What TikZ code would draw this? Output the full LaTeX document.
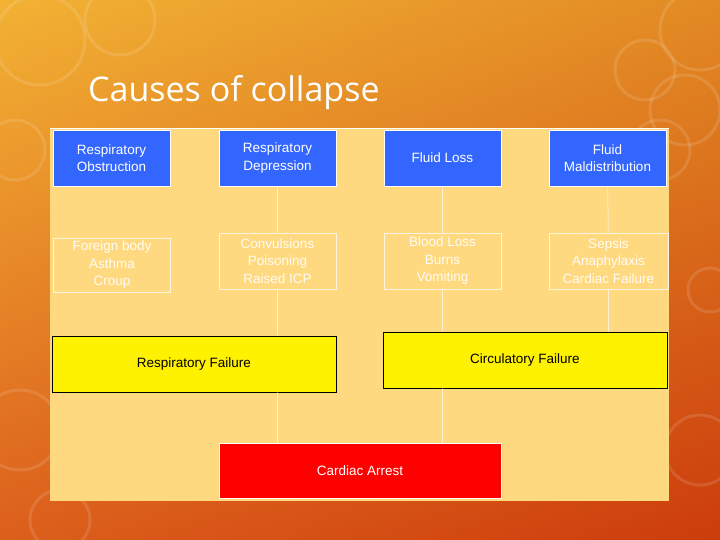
\documentclass[tikz,border=0pt]{standalone}
\usepackage{fontspec}
\setsansfont{Liberation Sans}
\newfontfamily\titlefont{Open Sans}
\usetikzlibrary{positioning,shadings}
\definecolor{panel}{RGB}{255,217,128}
\definecolor{causeblue}{RGB}{51,102,255}
\definecolor{bgtl}{RGB}{242,178,52}
\definecolor{bgtr}{RGB}{226,138,36}
\definecolor{bgbl}{RGB}{220,95,28}
\definecolor{bgbr}{RGB}{204,60,12}
\begin{document}
\begin{tikzpicture}[x=1pt,y=-1pt,
  box/.style={rectangle,minimum width=117pt,minimum height=56pt,inner sep=2pt,align=center,
    font=\sffamily\fontsize{13.5}{17.5}\selectfont},
  cause/.style={box,fill=causeblue,draw=white,line width=0.5pt,text=white},
  detail/.style={box,draw=white!75!panel,line width=0.5pt,text=white!92!panel},
  failure/.style={box,fill=yellow,draw=black,line width=0.6pt,minimum width=284pt},
  arrest/.style={box,fill=red,draw=white,line width=0.5pt,text=white,minimum width=282pt,minimum height=55pt},
  link/.style={draw=white,line width=0.5pt},
  ring/.style={draw=white,opacity=0.12,line width=3pt}]
\clip (0,0) rectangle (720,540);
% background
\shade[upper left=bgtl,upper right=bgtr,lower left=bgbl,lower right=bgbr] (0,0) rectangle (720,540);
\foreach \cx/\cy/\r in {40/40/45,120/20/35,15/150/30,700/30/40,645/70/30,685/110/35,660/150/30,640/230/28,710/290/22,20/430/40,700/450/35,60/520/30}
  \draw[ring] (\cx,\cy) circle (\r);
\fill[panel] (50,128) rectangle (669,501);
\draw[white,line width=0.6pt] (50,128) -- (669,128);

\node[anchor=base west,text=white,font=\titlefont\fontsize{34}{40}\selectfont,inner sep=0pt] (title) at (88,102) {Causes of collapse};

% causes
\node[cause] (obst) at (111.5,158) {Respiratory\\Obstruction};
\node[cause] (dep) at (277.5,158) {Respiratory\\Depression};
\node[cause] (loss) at (442.5,158) {Fluid Loss};
\node[cause] (mald) at (607.5,158) {Fluid\\Maldistribution};

% examples
\node[detail,minimum height=54pt] (obstx) at (112,265) {Foreign body\\Asthma\\Croup};
\node[detail] (depx) at (277.5,261) {Convulsions\\Poisoning\\Raised ICP};
\node[detail] (lossx) at (442.5,261) {Blood Loss\\Burns\\Vomiting};
\node[detail,minimum width=119pt] (maldx) at (608.5,261) {Sepsis\\Anaphylaxis\\Cardiac Failure};

% failures
\node[failure] (rfail) at (194,364) {Respiratory Failure};
\node[failure] (cfail) at (525,360) {Circulatory Failure};
\node[arrest] (arr) at (360,470.5) {Cardiac Arrest};

\path[link] (dep) -- (depx)
  (loss) -- (lossx)
  (mald) -- (maldx)
  (depx.south) -- (depx.south |- rfail.north)
  (lossx.south) -- (lossx.south |- cfail.north)
  (maldx.south) -- (maldx.south |- cfail.north)
  (depx.south |- rfail.south) -- (depx.south |- arr.north)
  (lossx.south |- cfail.south) -- (lossx.south |- arr.north);
\end{tikzpicture}
\end{document}
